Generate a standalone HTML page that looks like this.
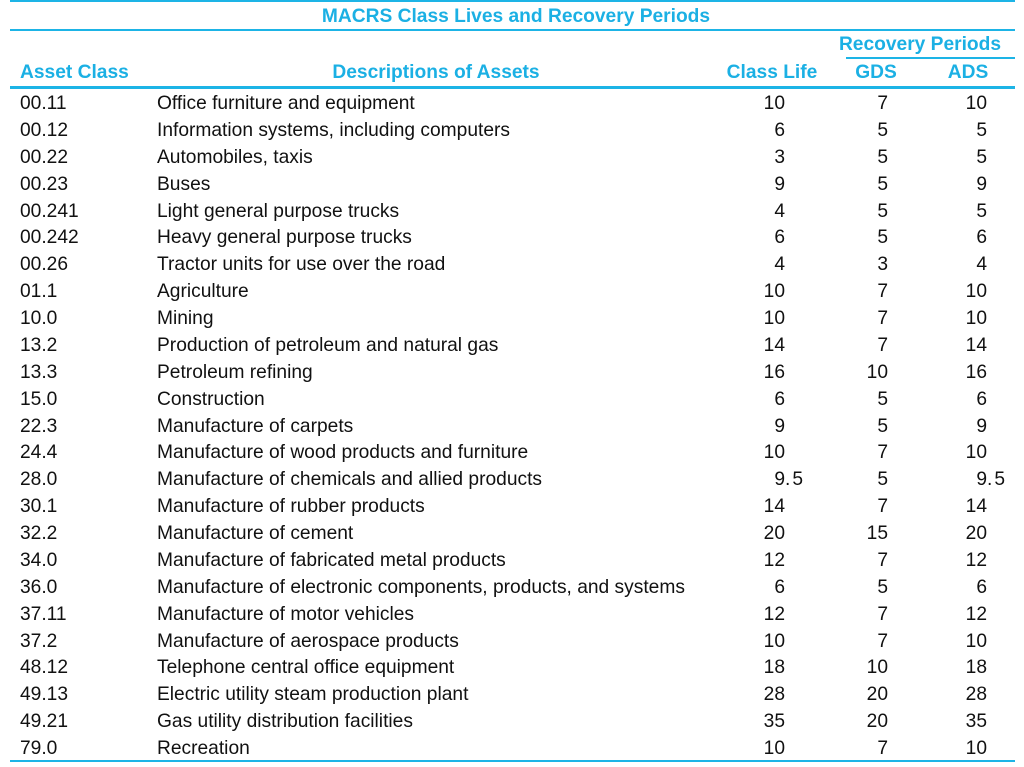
<!DOCTYPE html>
<html><head><meta charset="utf-8"><style>
body{margin:0;width:1024px;height:767px;background:#fff;position:relative;overflow:hidden;font-family:"Liberation Sans",Arial,sans-serif;}
.t{position:absolute;font-size:19.2px;line-height:26px;height:26px;white-space:nowrap;color:#111;}
.h{color:#1bb0e4;font-weight:bold;}
.l{position:absolute;background:#1db4e6;}
.r{text-align:right;width:60px;}
.c{text-align:center;}
</style></head><body>
<div class="l" style="left:10px;top:0px;width:1005px;height:2px"></div>
<div class="l" style="left:10px;top:29px;width:1005px;height:2px"></div>
<div class="l" style="left:846px;top:57px;width:169px;height:2px"></div>
<div class="l" style="left:10px;top:86px;width:1005px;height:3px"></div>
<div class="l" style="left:10px;top:760px;width:1005px;height:2px"></div>
<div class="t h c" style="left:216px;width:600px;top:4px">MACRS Class Lives and Recovery Periods</div>
<div class="t h c" style="left:820px;width:200px;top:32px">Recovery Periods</div>
<div class="t h" style="left:20px;top:60px">Asset Class</div>
<div class="t h c" style="left:236px;width:400px;top:60px">Descriptions of Assets</div>
<div class="t h c" style="left:712px;width:120px;top:60px">Class Life</div>
<div class="t h c" style="left:836px;width:80px;top:60px">GDS</div>
<div class="t h c" style="left:928px;width:80px;top:60px">ADS</div>
<div id="rows"></div>
<script>
(function(){
var d=[["00.11","Office furniture and equipment","10","7","10"],["00.12","Information systems, including computers","6","5","5"],["00.22","Automobiles, taxis","3","5","5"],["00.23","Buses","9","5","9"],["00.241","Light general purpose trucks","4","5","5"],["00.242","Heavy general purpose trucks","6","5","6"],["00.26","Tractor units for use over the road","4","3","4"],["01.1","Agriculture","10","7","10"],["10.0","Mining","10","7","10"],["13.2","Production of petroleum and natural gas","14","7","14"],["13.3","Petroleum refining","16","10","16"],["15.0","Construction","6","5","6"],["22.3","Manufacture of carpets","9","5","9"],["24.4","Manufacture of wood products and furniture","10","7","10"],["28.0","Manufacture of chemicals and allied products","9.5","5","9.5"],["30.1","Manufacture of rubber products","14","7","14"],["32.2","Manufacture of cement","20","15","20"],["34.0","Manufacture of fabricated metal products","12","7","12"],["36.0","Manufacture of electronic components, products, and systems","6","5","6"],["37.11","Manufacture of motor vehicles","12","7","12"],["37.2","Manufacture of aerospace products","10","7","10"],["48.12","Telephone central office equipment","18","10","18"],["49.13","Electric utility steam production plant","28","20","28"],["49.21","Gas utility distribution facilities","35","20","35"],["79.0","Recreation","10","7","10"]];
var h="";
function num(v,right,y){if(v.indexOf(".")>=0){var p=v.split(".");return '<div class="t" style="left:'+(right-60)+'px;width:60px;text-align:right;top:'+y+'px">'+p[0]+'</div><div class="t" style="left:'+right+'px;top:'+y+'px;letter-spacing:2px">.'+p[1]+'</div>';}return '<div class="t r" style="left:'+(right-60)+'px;top:'+y+'px">'+v+'</div>';}
for(var i=0;i<d.length;i++){var y=Math.round(91+i*26.875);var r=d[i];
h+='<div class="t" style="left:20px;top:'+y+'px">'+r[0]+'</div>';
h+='<div class="t" style="left:157px;top:'+y+'px">'+r[1]+'</div>';
h+=num(r[2],785,y)+num(r[3],888,y)+num(r[4],987,y);}
document.getElementById("rows").innerHTML=h;
})();
</script>
</body></html>
